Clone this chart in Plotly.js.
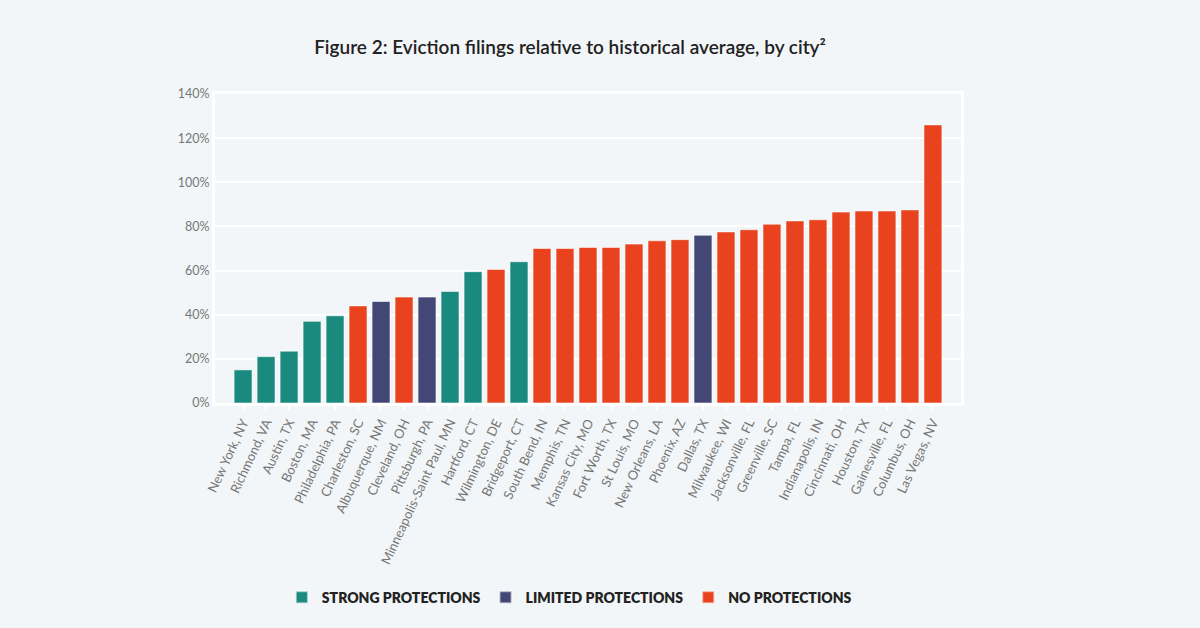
<!DOCTYPE html>
<html>
<head>
<meta charset="utf-8">
<script src="https://cdn.plot.ly/plotly-3.0.1.min.js"></script>
<style>
  html, body { margin: 0; padding: 0; background: #f3f6f8; }
  #chart { width: 1200px; height: 628px; }
</style>
</head>
<body>
<div id="chart"></div>
<script>
// cities in chart order, with filings as % of historical average
const cities = [
  "New York, NY", "Richmond, VA", "Austin, TX", "Boston, MA", "Philadelphia, PA",
  "Charleston, SC", "Albuquerque, NM", "Cleveland, OH", "Pittsburgh, PA",
  "Minneapolis-Saint Paul, MN", "Hartford, CT", "Wilmington, DE", "Bridgeport, CT",
  "South Bend, IN", "Memphis, TN", "Kansas City, MO", "Fort Worth, TX", "St Louis, MO",
  "New Orleans, LA", "Phoenix, AZ", "Dallas, TX", "Milwaukee, WI", "Jacksonville, FL",
  "Greenville, SC", "Tampa, FL", "Indianapolis, IN", "Cincinnati, OH", "Houston, TX",
  "Gainesville, FL", "Columbus, OH", "Las Vegas, NV"
];
const filings = [
  15, 21, 23.5, 37, 39.5,
  44, 46, 48, 48,
  50.5, 59.5, 60.5, 64,
  70, 70, 70.5, 70.5, 72,
  73.5, 74, 76, 77.5, 78.5,
  81, 82.5, 83, 86.5, 87,
  87, 87.5, 126
];
// protection level of each city: S = strong, L = limited, N = none
const protection = [
  "S", "S", "S", "S", "S",
  "N", "L", "N", "L",
  "S", "S", "N", "S",
  "N", "N", "N", "N", "N",
  "N", "N", "L", "N", "N",
  "N", "N", "N", "N", "N",
  "N", "N", "N"
];
const groups = [
  { key: "S", name: "STRONG PROTECTIONS", color: "#1b8a7e" },
  { key: "L", name: "LIMITED PROTECTIONS", color: "#434776" },
  { key: "N", name: "NO PROTECTIONS", color: "#e8431e" }
];

// one trace per protection level so the legend shows three entries
let traces = groups.map(g => {
  let xs = [], ys = [];
  cities.forEach((c, i) => {
    if (protection[i] === g.key) { xs.push(c); ys.push(filings[i]); }
  });
  return {
    type: "bar",
    name: g.name,
    x: xs,
    y: ys,
    width: 0.78,
    marker: { color: g.color, line: { color: "rgba(255,255,255,0.55)", width: 1 } },
    hovertemplate: "%{x}: %{y}%<extra></extra>"
  };
});

let layout = {
  width: 1200,
  height: 628,
  paper_bgcolor: "#f3f6f8",
  plot_bgcolor: "#f3f6f8",
  margin: { l: 215, r: 239, t: 94, b: 225 },
  barmode: "overlay",
  font: { family: "Lato, sans-serif", color: "#777" },
  title: {
    text: "Figure 2: Eviction filings relative to historical average, by city²",
    x: 0.475,
    xanchor: "center",
    y: 0.925,
    yanchor: "middle",
    font: { family: "Lato, sans-serif", size: 19, color: "#222", weight: 600 }
  },
  xaxis: {
    type: "category",
    categoryorder: "array",
    categoryarray: cities,
    range: [-1.22, 31.22],
    tickangle: -65,
    tickfont: { family: "Lato, sans-serif", size: 13, color: "#777" },
    ticks: "outside",
    ticklen: 4,
    tickcolor: "#ffffff",
    tickwidth: 2,
    showline: true,
    linecolor: "#ffffff",
    linewidth: 3,
    mirror: true,
    showgrid: false
  },
  yaxis: {
    range: [0, 140],
    dtick: 20,
    ticksuffix: "%",
    tickfont: { family: "Lato, sans-serif", size: 12.5, color: "#777" },
    gridcolor: "#ffffff",
    gridwidth: 2,
    zeroline: false,
    showline: true,
    linecolor: "#ffffff",
    linewidth: 3,
    mirror: true,
    ticks: "",
    ticklen: 6
  },
  showlegend: true,
  legend: {
    orientation: "h",
    x: 0.475,
    xref: "paper",
    xanchor: "center",
    y: -0.63,
    yanchor: "middle",
    font: { family: "Lato, sans-serif", size: 14, color: "#222", weight: 800 },
    itemsizing: "constant",
    traceorder: "normal"
  }
};

Plotly.newPlot("chart", traces, layout, { displayModeBar: false, staticPlot: true });
</script>
</body>
</html>
